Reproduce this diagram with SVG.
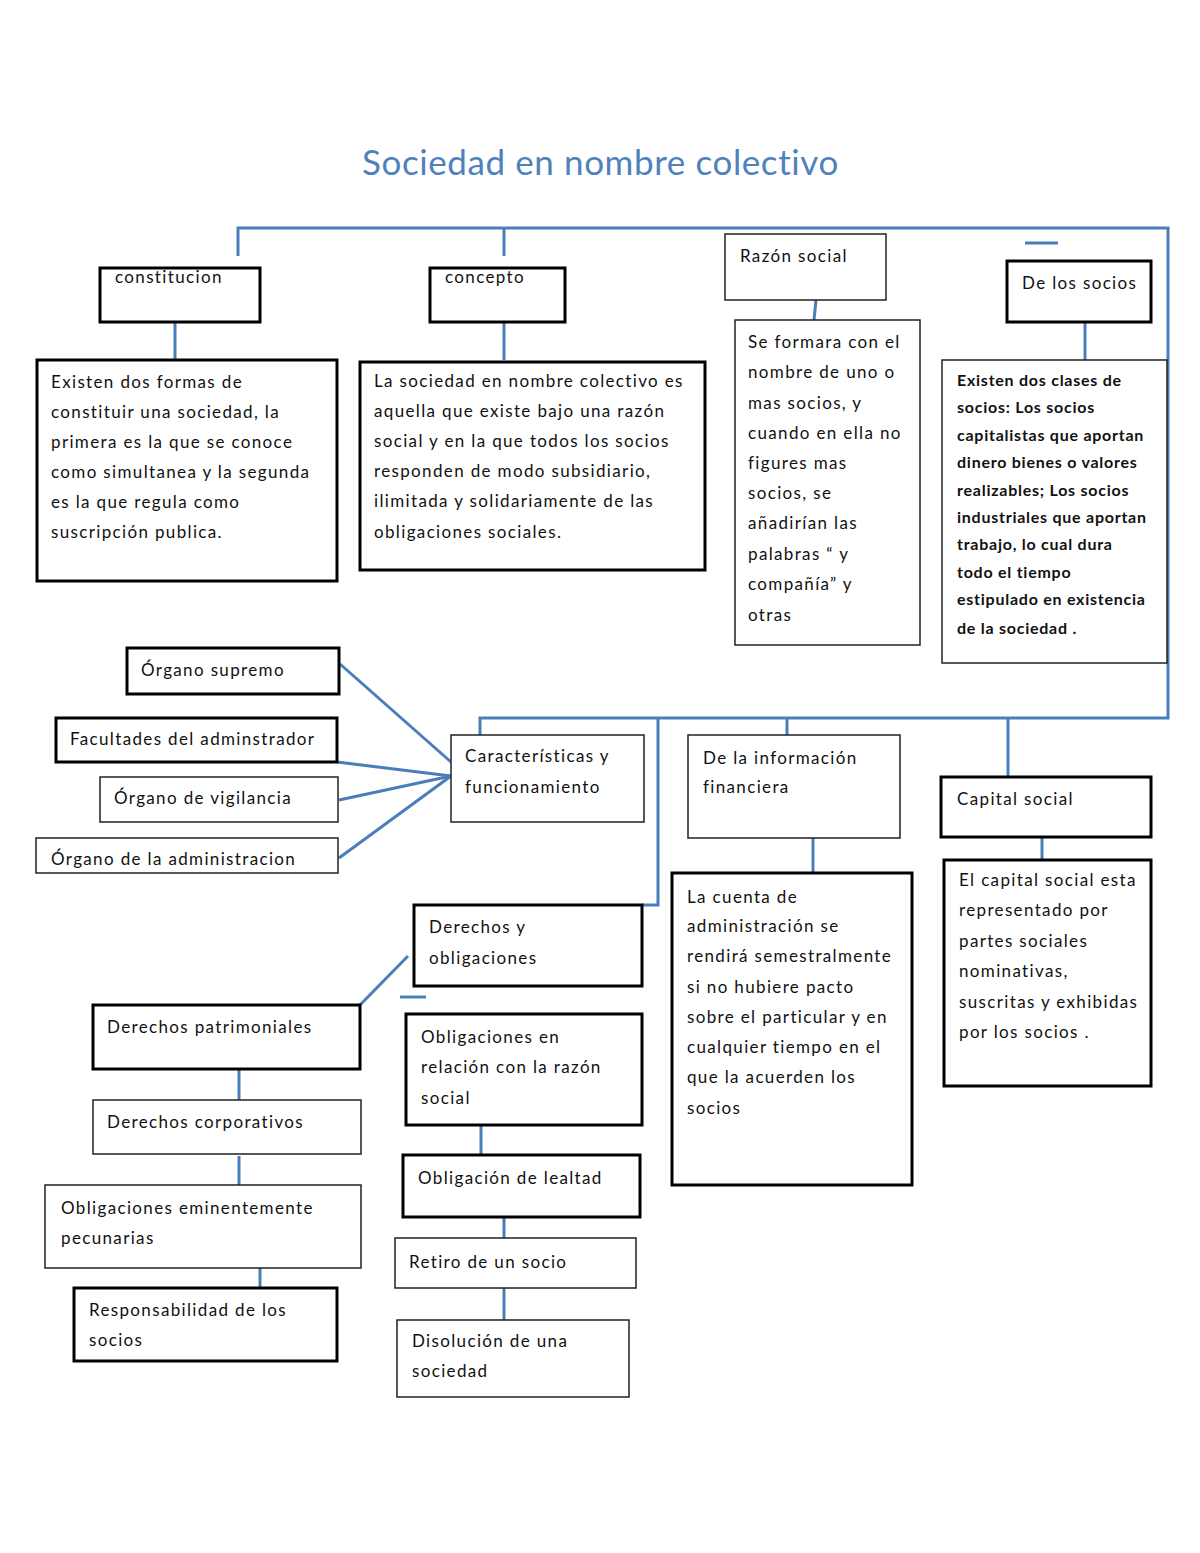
<svg xmlns="http://www.w3.org/2000/svg" width="1200" height="1553" viewBox="0 0 1200 1553">
<style>
.bg{fill:#fff}
.thick{fill:#fff;stroke:#000;stroke-width:3}
.thin{fill:#fff;stroke:#222;stroke-width:1.5}
.t{font-family:Lato,"Open Sans","Liberation Sans",sans-serif;font-size:17px;fill:#111;letter-spacing:1.35px}
.b{font-family:Lato,"Liberation Sans",sans-serif;font-size:16px;font-weight:bold;fill:#111;letter-spacing:0.75px}
.title{font-family:Lato,"Open Sans","Liberation Sans",sans-serif;font-size:35px;fill:#4F81BD;letter-spacing:0.6px}
.c{fill:none;stroke:#4A7EBB;stroke-width:3}
</style>
<rect class="bg" x="0" y="0" width="1200" height="1553"/>
<text class="title" x="362" y="175">Sociedad en nombre colectivo</text>

<g id="connectors">
<path class="c" d="M238,256 V228 H1168 V718 H480 V735"/>
<path class="c" d="M504,228 V256"/>
<path class="c" d="M175,322 V360"/>
<path class="c" d="M504,322 V360"/>
<path class="c" d="M816,300 L815,310 L814,320"/>
<path class="c" d="M1085,322 V360"/>
<path class="c" d="M1025,243 H1058"/>
<path class="c" d="M658,718 V905 H642"/>
<path class="c" d="M787,718 V735"/>
<path class="c" d="M1008,718 V776"/>
<path class="c" d="M813,838 V873"/>
<path class="c" d="M1042,837 V860"/>
<path class="c" d="M340,664 L451,762"/>
<path class="c" d="M337,762 L451,776"/>
<path class="c" d="M339,800 L451,776"/>
<path class="c" d="M339,858 L451,776"/>
<path class="c" d="M408,956 L360,1005"/>
<path class="c" d="M400,997 H426"/>
<path class="c" d="M239,1069 V1100"/>
<path class="c" d="M239,1156 V1185"/>
<path class="c" d="M260,1268 V1288"/>
<path class="c" d="M481,1125 V1155"/>
<path class="c" d="M504,1217 V1238"/>
<path class="c" d="M504,1288 V1320"/>
</g>

<g id="constitucion">
<rect class="thick" x="100" y="268" width="160" height="54"/>
<text class="t" x="115" y="283">constitucion</text>
</g>
<g id="constitucion-texto">
<rect class="thick" x="37" y="360" width="300" height="221"/>
<text class="t" x="51" y="388">Existen dos formas de</text>
<text class="t" x="51" y="418">constituir una sociedad, la</text>
<text class="t" x="51" y="448">primera es la que se conoce</text>
<text class="t" x="51" y="478">como simultanea y la segunda</text>
<text class="t" x="51" y="508">es la que regula como</text>
<text class="t" x="51" y="538">suscripción publica.</text>
</g>

<g id="concepto">
<rect class="thick" x="430" y="268" width="135" height="54"/>
<text class="t" x="445" y="283">concepto</text>
</g>
<g id="concepto-texto">
<rect class="thick" x="360" y="362" width="345" height="208"/>
<text class="t" x="374" y="387">La sociedad en nombre colectivo es</text>
<text class="t" x="374" y="417">aquella que existe bajo una razón</text>
<text class="t" x="374" y="447">social  y en la que todos los socios</text>
<text class="t" x="374" y="477">responden de modo subsidiario,</text>
<text class="t" x="374" y="507">ilimitada y solidariamente de las</text>
<text class="t" x="374" y="538">obligaciones sociales.</text>
</g>

<g id="razon-social">
<rect class="thin" x="725" y="234" width="161" height="66"/>
<text class="t" x="740" y="262">Razón social</text>
</g>
<g id="razon-social-texto">
<rect class="thin" x="735" y="320" width="185" height="325"/>
<text class="t" x="748" y="348">Se formara con el</text>
<text class="t" x="748" y="378">nombre de uno o</text>
<text class="t" x="748" y="409">mas socios, y</text>
<text class="t" x="748" y="439">cuando en ella no</text>
<text class="t" x="748" y="469">figures mas</text>
<text class="t" x="748" y="499">socios, se</text>
<text class="t" x="748" y="529">añadirían las</text>
<text class="t" x="748" y="560">palabras “ y</text>
<text class="t" x="748" y="590">compañía” y</text>
<text class="t" x="748" y="621">otras</text>
</g>

<g id="de-los-socios">
<rect class="thick" x="1007" y="261" width="144" height="61"/>
<text class="t" x="1022" y="289">De los socios</text>
</g>
<g id="de-los-socios-texto">
<rect class="thin" x="942" y="360" width="225" height="303"/>
<text class="b" x="957" y="386">Existen dos clases de</text>
<text class="b" x="957" y="413">socios: Los socios</text>
<text class="b" x="957" y="441">capitalistas que aportan</text>
<text class="b" x="957" y="468">dinero bienes o valores</text>
<text class="b" x="957" y="496">realizables; Los socios</text>
<text class="b" x="957" y="523">industriales que aportan</text>
<text class="b" x="957" y="550">trabajo, lo cual dura</text>
<text class="b" x="957" y="578">todo el tiempo</text>
<text class="b" x="957" y="605">estipulado  en existencia</text>
<text class="b" x="957" y="634">de la sociedad .</text>
</g>

<g id="organo-supremo">
<rect class="thick" x="127" y="648" width="212" height="46"/>
<text class="t" x="141" y="676">Órgano supremo</text>
</g>
<g id="facultades">
<rect class="thick" x="56" y="718" width="281" height="44"/>
<text class="t" x="70" y="745">Facultades del adminstrador</text>
</g>
<g id="organo-vigilancia">
<rect class="thin" x="100" y="777" width="238" height="45"/>
<text class="t" x="114" y="804">Órgano de vigilancia</text>
</g>
<g id="organo-administracion">
<rect class="thin" x="36" y="838" width="302" height="35"/>
<text class="t" x="51" y="865">Órgano de la administracion</text>
</g>

<g id="caracteristicas">
<rect class="thin" x="451" y="735" width="193" height="87"/>
<text class="t" x="465" y="762">Características y</text>
<text class="t" x="465" y="793">funcionamiento</text>
</g>

<g id="informacion-financiera">
<rect class="thin" x="688" y="735" width="212" height="103"/>
<text class="t" x="703" y="764">De la información</text>
<text class="t" x="703" y="793">financiera</text>
</g>
<g id="informacion-texto">
<rect class="thick" x="672" y="873" width="240" height="312"/>
<text class="t" x="687" y="903">La cuenta de</text>
<text class="t" x="687" y="932">administración se</text>
<text class="t" x="687" y="962">rendirá semestralmente</text>
<text class="t" x="687" y="993">si no hubiere pacto</text>
<text class="t" x="687" y="1023">sobre el particular y en</text>
<text class="t" x="687" y="1053">cualquier tiempo en el</text>
<text class="t" x="687" y="1083">que la acuerden los</text>
<text class="t" x="687" y="1114">socios</text>
</g>

<g id="capital-social">
<rect class="thick" x="941" y="777" width="210" height="60"/>
<text class="t" x="957" y="805">Capital social</text>
</g>
<g id="capital-texto">
<rect class="thick" x="944" y="860" width="207" height="226"/>
<text class="t" x="959" y="886">El capital social esta</text>
<text class="t" x="959" y="916">representado por</text>
<text class="t" x="959" y="947">partes sociales</text>
<text class="t" x="959" y="977">nominativas,</text>
<text class="t" x="959" y="1008">suscritas y exhibidas</text>
<text class="t" x="959" y="1038">por los socios .</text>
</g>

<g id="derechos-obligaciones">
<rect class="thick" x="414" y="905" width="228" height="81"/>
<text class="t" x="429" y="933">Derechos y</text>
<text class="t" x="429" y="964">obligaciones</text>
</g>

<g id="derechos-patrimoniales">
<rect class="thick" x="93" y="1005" width="267" height="64"/>
<text class="t" x="107" y="1033">Derechos patrimoniales</text>
</g>
<g id="derechos-corporativos">
<rect class="thin" x="93" y="1100" width="268" height="54"/>
<text class="t" x="107" y="1128">Derechos corporativos</text>
</g>
<g id="obligaciones-pecunarias">
<rect class="thin" x="45" y="1185" width="316" height="83"/>
<text class="t" x="61" y="1214">Obligaciones eminentemente</text>
<text class="t" x="61" y="1244">pecunarias</text>
</g>
<g id="responsabilidad">
<rect class="thick" x="74" y="1288" width="263" height="73"/>
<text class="t" x="89" y="1316">Responsabilidad de los</text>
<text class="t" x="89" y="1346">socios</text>
</g>

<g id="obligaciones-razon">
<rect class="thick" x="406" y="1014" width="236" height="111"/>
<text class="t" x="421" y="1043">Obligaciones en</text>
<text class="t" x="421" y="1073">relación con la razón</text>
<text class="t" x="421" y="1104">social</text>
</g>
<g id="obligacion-lealtad">
<rect class="thick" x="403" y="1155" width="237" height="62"/>
<text class="t" x="418" y="1184">Obligación de lealtad</text>
</g>
<g id="retiro">
<rect class="thin" x="395" y="1238" width="241" height="50"/>
<text class="t" x="409" y="1268">Retiro de un socio</text>
</g>
<g id="disolucion">
<rect class="thin" x="397" y="1320" width="232" height="77"/>
<text class="t" x="412" y="1347">Disolución de una</text>
<text class="t" x="412" y="1377">sociedad</text>
</g>
</svg>
